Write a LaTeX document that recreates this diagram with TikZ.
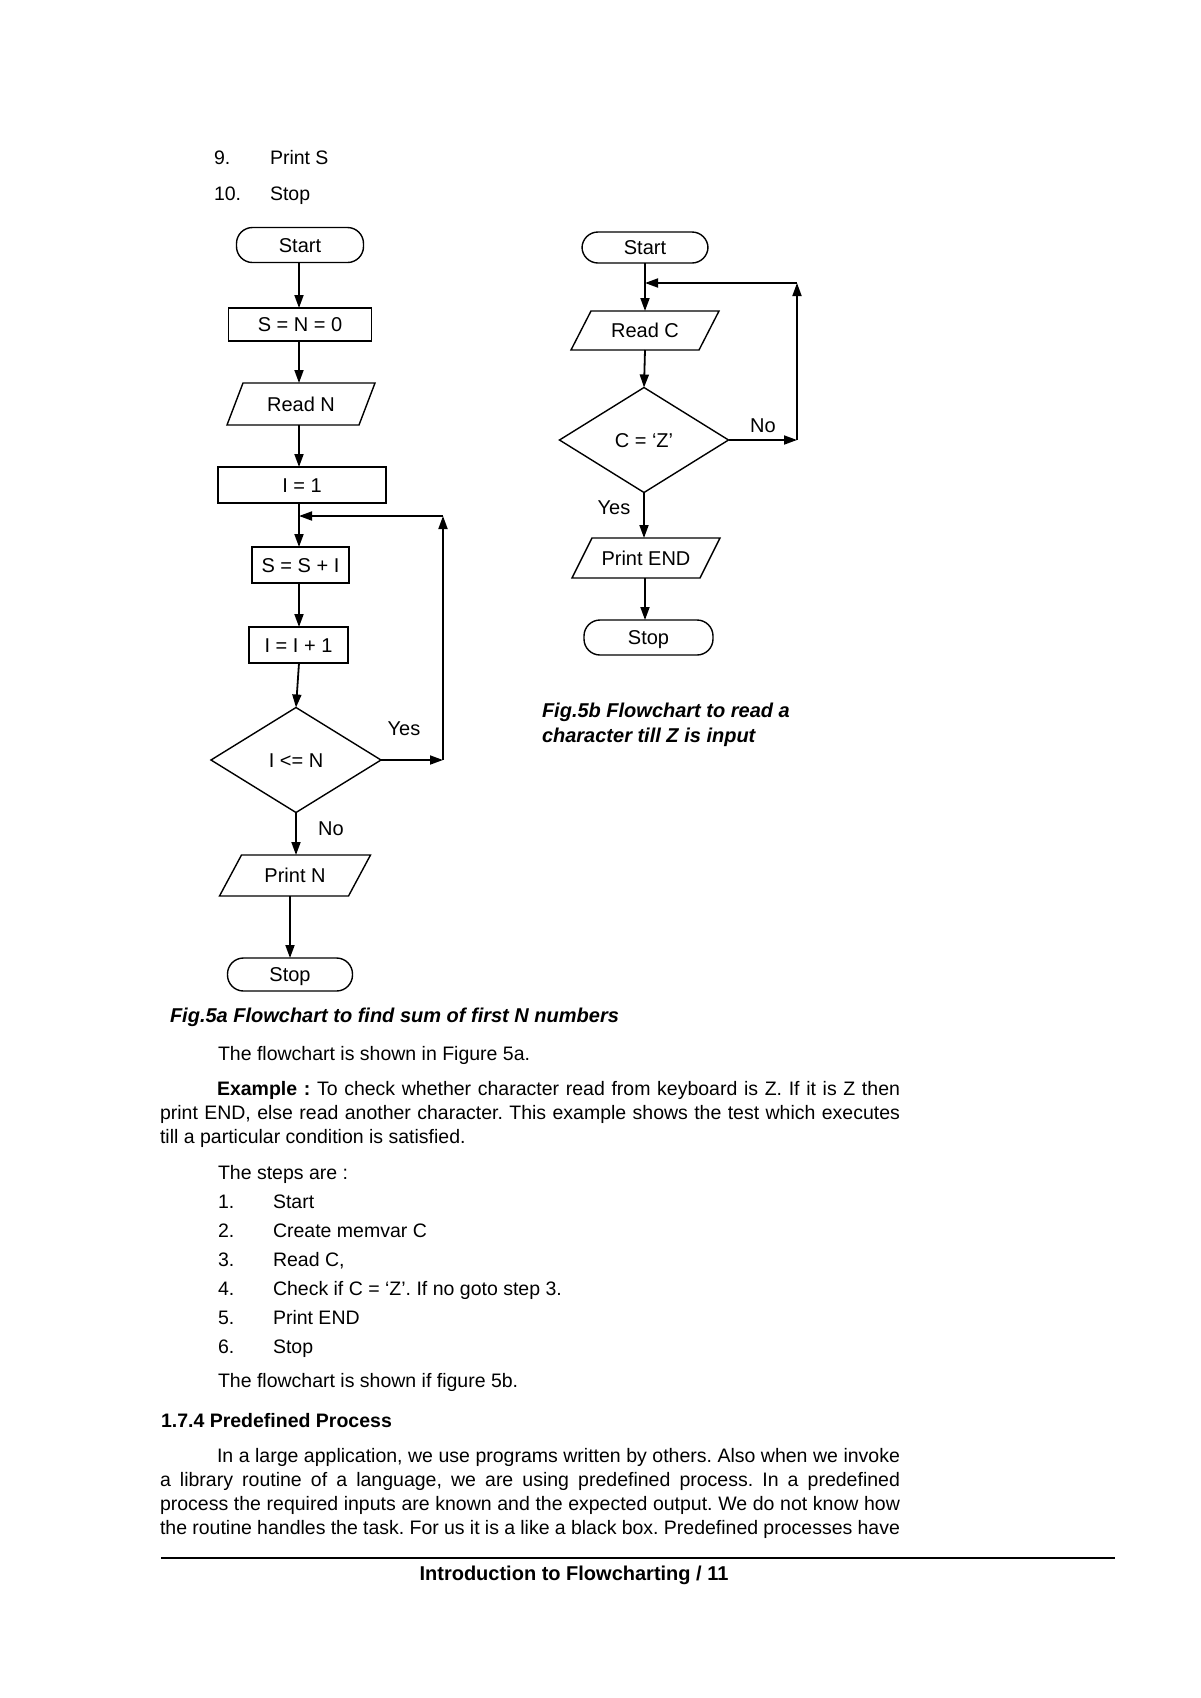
\documentclass[tikz,border=0pt]{standalone}
\usepackage{fontspec}
\setmainfont{Liberation Sans}
\usetikzlibrary{arrows.meta,shapes.geometric,calc}
\newcommand\parashape[2]{\draw[line width=1.4pt] ($(#1.south west)+(-#2,0)$) -- ($(#1.north west)+(#2,0)$) -- ($(#1.north east)+(#2,0)$) -- ($(#1.south east)+(-#2,0)$) -- cycle;}
\frenchspacing
\begin{document}
\begin{tikzpicture}[x=1pt,y=-1pt,
  every node/.style={inner sep=0pt, outer sep=0pt, font=\fontsize{20}{24}\selectfont},
  body/.style={anchor=base west, font=\fontsize{19.5}{24}\selectfont},
  bodyb/.style={anchor=base west, font=\fontsize{19.5}{24}\selectfont\bfseries},
  capt/.style={anchor=base west, font=\fontsize{20}{24}\selectfont\bfseries\itshape},
  shp/.style={draw, line width=1.4pt, text height=14.3pt, text depth=0pt, align=center},
  term/.style={shp, rectangle, rounded corners=16pt},
  procbox/.style={shp, rectangle},
  iobox/.style={rectangle, text height=14.3pt, text depth=0pt, align=center},
  decis/.style={shp, diamond, aspect=1.6},
  lbl/.style={text height=14.3pt, text depth=0pt},
  conn/.style={line width=1.8pt, -{Triangle[length=13pt,width=9pt]}},
]
\useasboundingbox (0,0) rectangle (1200,1698);
\fill[white] (0,0) rectangle (1200,1698);

% ---- top list ----
\node[body] (n9) at (214,164) {9.};
\node[body] (t9) at (270,164) {Print S};
\node[body] (n10) at (214,200) {10.};
\node[body] (t10) at (270,200) {Stop};

% ---- Fig 5a ----
\coordinate (lx) at (299,0);
\coordinate (lcx) at (443,0);
\node[term, minimum width=127pt, minimum height=35pt] (ls) at (300,245) {Start};
\node[procbox, minimum width=143pt, minimum height=33pt] (l0) at (300,324.5) {S = N = 0};
\node[iobox, minimum width=132pt, minimum height=42pt] (lrn) at (301,404) {Read N};
\parashape{lrn}{8}
\node[procbox, minimum width=168pt, minimum height=36pt] (li1) at (302,485) {I = 1};
\node[procbox, minimum width=97pt, minimum height=36pt] (lss) at (300.5,565) {S = S + I};
\node[procbox, minimum width=99pt, minimum height=36pt] (lii) at (298.5,645) {I = I + 1};
\node[decis, minimum width=170pt, minimum height=105pt] (ld) at (296,760) {I <= N};
\node[iobox, minimum width=129pt, minimum height=41pt] (lpn) at (295,875.5) {Print N};
\parashape{lpn}{11}
\node[term, minimum width=125pt, minimum height=33pt] (lst) at (290,974.5) {Stop};

\draw[conn] (ls.south -| lx) -- (l0.north -| lx);
\draw[conn] (l0.south -| lx) -- (lrn.north -| lx);
\draw[conn] (lrn.south -| lx) -- (li1.north -| lx);
\draw[conn] (li1.south -| lx) -- (lss.north -| lx);
\draw[conn] (lss.south -| lx) -- (lii.north -| lx);
\draw[conn] (lii.south -| lx) -- (ld.north);
\draw[conn] (ld.south) -- (ld.south |- lpn.north);
\draw[conn] (lpn.south -| lst.north) -- (lst.north);
\coordinate (lc1) at (ld.east -| lcx);
\coordinate (lc2) at (443,516);
\coordinate (lj) at (299,516);
\draw[conn] (ld.east) -- (lc1);
\draw[conn] (lc1) -- (lc2);
\draw[conn] (lc2) -- (lj);
\node[lbl] (lyes) at (404,728) {Yes};
\node[lbl] (lno) at (331,828) {No};
\node[capt] (cap5a) at (170,1022) {Fig.5a Flowchart to find sum of first N numbers};

% ---- Fig 5b ----
\coordinate (rx) at (645,0);
\coordinate (rcx) at (797,0);
\node[term, minimum width=126pt, minimum height=31pt] (rs) at (645,247.5) {Start};
\node[iobox, minimum width=128pt, minimum height=39pt] (rrc) at (645,330.5) {Read C};
\parashape{rrc}{10}
\node[decis, minimum width=169pt, minimum height=105pt] (rd) at (644,440) {C = ‘Z’};
\node[iobox, minimum width=128pt, minimum height=40pt] (rpe) at (646,558) {Print END};
\parashape{rpe}{10}
\node[term, minimum width=129pt, minimum height=35pt] (rst) at (648.5,637.5) {Stop};

\draw[conn] (rs.south -| rx) -- (rrc.north -| rx);
\draw[conn] (rrc.south -| rx) -- (rd.north);
\draw[conn] (rd.south) -- (rpe.north -| rd.south);
\draw[conn] (rpe.south -| rx) -- (rst.north -| rx);
\coordinate (rc1) at (rd.east -| rcx);
\coordinate (rc2) at (797,283);
\coordinate (rj) at (645,283);
\draw[conn] (rd.east) -- (rc1);
\draw[conn] (rc1) -- (rc2);
\draw[conn] (rc2) -- (rj);
\node[lbl] (rno) at (763,425) {No};
\node[lbl] (ryes) at (614,507) {Yes};
\node[capt] (cap5b1) at (542,717) {Fig.5b Flowchart to read a};
\node[capt] (cap5b2) at (542,742) {character till Z is input};

% ---- body text ----
\node[body] (p1) at (218,1060) {The flowchart is shown in Figure 5a.};
\node[body] (p2a) at (217,1095) {\hbox to 683pt{\textbf{Example :} To check whether character read from keyboard is Z. If it is Z then}};
\node[body] (p2b) at (160,1119) {\hbox to 740pt{print END, else read another character. This example shows the test which executes}};
\node[body] (p2c) at (160,1143) {till a particular condition is satisfied.};
\node[body] (p3) at (218,1179) {The steps are :};
\node[body] (s1n) at (218,1208) {1.};   \node[body] (s1t) at (273,1208) {Start};
\node[body] (s2n) at (218,1237) {2.};   \node[body] (s2t) at (273,1237) {Create memvar C};
\node[body] (s3n) at (218,1266) {3.};   \node[body] (s3t) at (273,1266) {Read C,};
\node[body] (s4n) at (218,1295) {4.};   \node[body] (s4t) at (273,1295) {Check if C = ‘Z’. If no goto step 3.};
\node[body] (s5n) at (218,1324) {5.};   \node[body] (s5t) at (273,1324) {Print END};
\node[body] (s6n) at (218,1353) {6.};   \node[body] (s6t) at (273,1353) {Stop};
\node[body] (p4) at (218,1387) {The flowchart is shown if figure 5b.};
\node[bodyb] (h174) at (161,1427) {1.7.4 Predefined Process};
\node[body] (q1) at (217,1462) {\hbox to 683pt{In a large application, we use programs written by others. Also when we invoke}};
\node[body] (q2) at (160,1486) {\hbox to 740pt{a library routine of a language, we are using predefined process. In a predefined}};
\node[body] (q3) at (160,1510) {\hbox to 740pt{process the required inputs are known and the expected output. We do not know how}};
\node[body] (q4) at (160,1534) {\hbox to 740pt{the routine handles the task. For us it is a like a black box. Predefined processes have}};

% ---- footer ----
\coordinate (fl) at (161,1558);
\coordinate (fr) at (1115,1558);
\draw[line width=1.4pt] (fl) -- (fr);
\node[anchor=base, font=\fontsize{20}{24}\selectfont\bfseries] (foot) at (574,1580) {Introduction to Flowcharting / 11};
\end{tikzpicture}
\end{document}
